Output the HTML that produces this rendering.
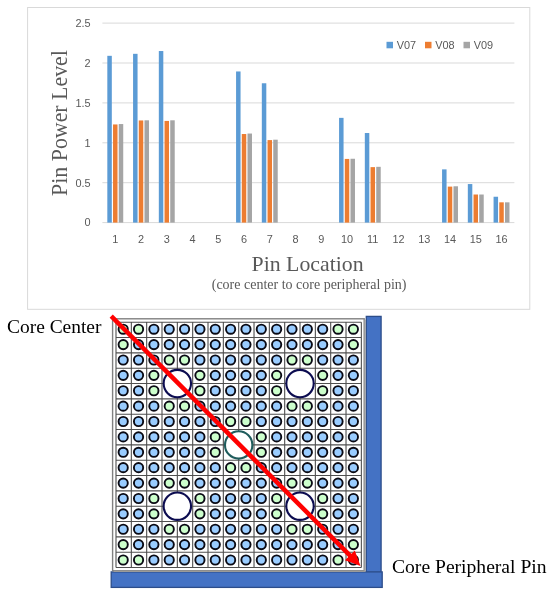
<!DOCTYPE html>
<html><head><meta charset="utf-8"><title>Pin Power Level</title>
<style>
html,body{margin:0;padding:0;background:#fff}
body{width:550px;height:592px;overflow:hidden}
svg{display:block}
.ax{font-family:"Liberation Sans",sans-serif;font-size:10.9px;fill:#595959}
.ti{font-family:"Liberation Serif",serif;fill:#595959}
.bk{font-family:"Liberation Serif",serif;fill:#000}
</style></head><body>
<svg width="550" height="592" viewBox="0 0 550 592">
<rect width="550" height="592" fill="#fff"/>
<rect x="27.6" y="7.5" width="502.19999999999993" height="301.8" fill="#fff" stroke="#d9d9d9" stroke-width="1"/>
<line x1="102.4" y1="222.6" x2="514.4" y2="222.6" stroke="#d9d9d9" stroke-width="1"/>
<text class="ax" x="90.6" y="226.4" text-anchor="end">0</text>
<line x1="102.4" y1="182.7" x2="514.4" y2="182.7" stroke="#d9d9d9" stroke-width="1"/>
<text class="ax" x="90.6" y="186.5" text-anchor="end">0.5</text>
<line x1="102.4" y1="142.8" x2="514.4" y2="142.8" stroke="#d9d9d9" stroke-width="1"/>
<text class="ax" x="90.6" y="146.60000000000002" text-anchor="end">1</text>
<line x1="102.4" y1="102.9" x2="514.4" y2="102.9" stroke="#d9d9d9" stroke-width="1"/>
<text class="ax" x="90.6" y="106.7" text-anchor="end">1.5</text>
<line x1="102.4" y1="63.0" x2="514.4" y2="63.0" stroke="#d9d9d9" stroke-width="1"/>
<text class="ax" x="90.6" y="66.8" text-anchor="end">2</text>
<line x1="102.4" y1="23.099999999999994" x2="514.4" y2="23.099999999999994" stroke="#d9d9d9" stroke-width="1"/>
<text class="ax" x="90.6" y="26.899999999999995" text-anchor="end">2.5</text>
<text class="ax" x="115.28" y="242.6" text-anchor="middle">1</text>
<rect x="107.32" y="55.82" width="4.49" height="166.78" fill="#5b9bd5"/>
<rect x="113.03" y="124.45" width="4.49" height="98.15" fill="#ed7d31"/>
<rect x="118.74" y="124.05" width="4.49" height="98.55" fill="#a5a5a5"/>
<text class="ax" x="141.03" y="242.6" text-anchor="middle">2</text>
<rect x="133.07" y="53.82" width="4.49" height="168.78" fill="#5b9bd5"/>
<rect x="138.78" y="120.46" width="4.49" height="102.14" fill="#ed7d31"/>
<rect x="144.49" y="120.30" width="4.49" height="102.30" fill="#a5a5a5"/>
<text class="ax" x="166.78" y="242.6" text-anchor="middle">3</text>
<rect x="158.82" y="51.03" width="4.49" height="171.57" fill="#5b9bd5"/>
<rect x="164.53" y="120.93" width="4.49" height="101.67" fill="#ed7d31"/>
<rect x="170.24" y="120.30" width="4.49" height="102.30" fill="#a5a5a5"/>
<text class="ax" x="192.53" y="242.6" text-anchor="middle">4</text>
<text class="ax" x="218.28" y="242.6" text-anchor="middle">5</text>
<text class="ax" x="244.03" y="242.6" text-anchor="middle">6</text>
<rect x="236.07" y="71.46" width="4.49" height="151.14" fill="#5b9bd5"/>
<rect x="241.78" y="134.02" width="4.49" height="88.58" fill="#ed7d31"/>
<rect x="247.49" y="133.54" width="4.49" height="89.06" fill="#a5a5a5"/>
<text class="ax" x="269.77" y="242.6" text-anchor="middle">7</text>
<rect x="261.82" y="83.27" width="4.49" height="139.33" fill="#5b9bd5"/>
<rect x="267.53" y="140.09" width="4.49" height="82.51" fill="#ed7d31"/>
<rect x="273.24" y="139.69" width="4.49" height="82.91" fill="#a5a5a5"/>
<text class="ax" x="295.52" y="242.6" text-anchor="middle">8</text>
<text class="ax" x="321.27" y="242.6" text-anchor="middle">9</text>
<text class="ax" x="347.02" y="242.6" text-anchor="middle">10</text>
<rect x="339.07" y="117.86" width="4.49" height="104.74" fill="#5b9bd5"/>
<rect x="344.78" y="158.92" width="4.49" height="63.68" fill="#ed7d31"/>
<rect x="350.49" y="158.76" width="4.49" height="63.84" fill="#a5a5a5"/>
<text class="ax" x="372.77" y="242.6" text-anchor="middle">11</text>
<rect x="364.82" y="133.02" width="4.49" height="89.58" fill="#5b9bd5"/>
<rect x="370.53" y="167.14" width="4.49" height="55.46" fill="#ed7d31"/>
<rect x="376.24" y="166.82" width="4.49" height="55.78" fill="#a5a5a5"/>
<text class="ax" x="398.52" y="242.6" text-anchor="middle">12</text>
<text class="ax" x="424.27" y="242.6" text-anchor="middle">13</text>
<text class="ax" x="450.02" y="242.6" text-anchor="middle">14</text>
<rect x="442.07" y="169.37" width="4.49" height="53.23" fill="#5b9bd5"/>
<rect x="447.78" y="186.61" width="4.49" height="35.99" fill="#ed7d31"/>
<rect x="453.49" y="186.29" width="4.49" height="36.31" fill="#a5a5a5"/>
<text class="ax" x="475.77" y="242.6" text-anchor="middle">15</text>
<rect x="467.82" y="184.06" width="4.49" height="38.54" fill="#5b9bd5"/>
<rect x="473.53" y="194.51" width="4.49" height="28.09" fill="#ed7d31"/>
<rect x="479.24" y="194.51" width="4.49" height="28.09" fill="#a5a5a5"/>
<text class="ax" x="501.52" y="242.6" text-anchor="middle">16</text>
<rect x="493.57" y="196.74" width="4.49" height="25.86" fill="#5b9bd5"/>
<rect x="499.28" y="202.33" width="4.49" height="20.27" fill="#ed7d31"/>
<rect x="504.99" y="202.33" width="4.49" height="20.27" fill="#a5a5a5"/>
<rect x="386.5" y="41.8" width="6.5" height="6.5" fill="#5b9bd5"/><text class="ax" x="396.8" y="48.9">V07</text>
<rect x="425.0" y="41.8" width="6.5" height="6.5" fill="#ed7d31"/><text class="ax" x="435.3" y="48.9">V08</text>
<rect x="463.5" y="41.8" width="6.5" height="6.5" fill="#a5a5a5"/><text class="ax" x="473.8" y="48.9">V09</text>
<text class="ti" font-size="23" transform="translate(66.5 195.9) rotate(-90)" textLength="145.8" lengthAdjust="spacingAndGlyphs">Pin Power Level</text>
<text class="ti" font-size="21.8" x="307.6" y="270.8" text-anchor="middle">Pin Location</text>
<text class="ti" font-size="14" x="309.1" y="289.0" text-anchor="middle">(core center to core peripheral pin)</text>
<text class="bk" font-size="19.45" x="7" y="332.9">Core Center</text>
<text class="bk" font-size="19.6" x="392" y="573.4">Core Peripheral Pin</text>
<rect x="366.3" y="316.4" width="14.8" height="256" fill="#4472c4" stroke="#2c4d8a" stroke-width="1.3"/>
<rect x="111.2" y="571.9" width="271" height="15.5" fill="#4472c4" stroke="#2c4d8a" stroke-width="1.3"/>
<rect x="112.6" y="318.8" width="251.6" height="251.90000000000003" fill="#fff" stroke="#808080" stroke-width="1.4"/>
<path d="M364.8 319.8 V571.3000000000001 H113.6" fill="none" stroke="#9a9a9a" stroke-width="1.6"/>
<path d="M116.00 322.2V567.56M116.0 322.20H361.36M131.34 322.2V567.56M116.0 337.53H361.36M146.67 322.2V567.56M116.0 352.87H361.36M162.00 322.2V567.56M116.0 368.20H361.36M177.34 322.2V567.56M116.0 383.54H361.36M192.68 322.2V567.56M116.0 398.88H361.36M208.01 322.2V567.56M116.0 414.21H361.36M223.34 322.2V567.56M116.0 429.54H361.36M238.68 322.2V567.56M116.0 444.88H361.36M254.02 322.2V567.56M116.0 460.22H361.36M269.35 322.2V567.56M116.0 475.55H361.36M284.69 322.2V567.56M116.0 490.88H361.36M300.02 322.2V567.56M116.0 506.22H361.36M315.36 322.2V567.56M116.0 521.56H361.36M330.69 322.2V567.56M116.0 536.89H361.36M346.02 322.2V567.56M116.0 552.23H361.36M361.36 322.2V567.56M116.0 567.56H361.36" fill="none" stroke="#505050" stroke-width="1.1"/>
<g fill="#99ccff" stroke="#0a0a14" stroke-width="1.9"><circle cx="153.89" cy="329.20" r="4.62"/><circle cx="169.24" cy="329.20" r="4.62"/><circle cx="184.58" cy="329.20" r="4.62"/><circle cx="199.93" cy="329.20" r="4.62"/><circle cx="215.27" cy="329.20" r="4.62"/><circle cx="230.62" cy="329.20" r="4.62"/><circle cx="245.96" cy="329.20" r="4.62"/><circle cx="261.31" cy="329.20" r="4.62"/><circle cx="276.65" cy="329.20" r="4.62"/><circle cx="292.00" cy="329.20" r="4.62"/><circle cx="307.34" cy="329.20" r="4.62"/><circle cx="322.69" cy="329.20" r="4.62"/><circle cx="138.55" cy="344.59" r="4.62"/><circle cx="153.89" cy="344.59" r="4.62"/><circle cx="169.24" cy="344.59" r="4.62"/><circle cx="184.58" cy="344.59" r="4.62"/><circle cx="199.93" cy="344.59" r="4.62"/><circle cx="215.27" cy="344.59" r="4.62"/><circle cx="230.62" cy="344.59" r="4.62"/><circle cx="245.96" cy="344.59" r="4.62"/><circle cx="261.31" cy="344.59" r="4.62"/><circle cx="276.65" cy="344.59" r="4.62"/><circle cx="292.00" cy="344.59" r="4.62"/><circle cx="307.34" cy="344.59" r="4.62"/><circle cx="322.69" cy="344.59" r="4.62"/><circle cx="338.03" cy="344.59" r="4.62"/><circle cx="123.20" cy="359.97" r="4.62"/><circle cx="138.55" cy="359.97" r="4.62"/><circle cx="153.89" cy="359.97" r="4.62"/><circle cx="199.93" cy="359.97" r="4.62"/><circle cx="215.27" cy="359.97" r="4.62"/><circle cx="230.62" cy="359.97" r="4.62"/><circle cx="245.96" cy="359.97" r="4.62"/><circle cx="261.31" cy="359.97" r="4.62"/><circle cx="276.65" cy="359.97" r="4.62"/><circle cx="322.69" cy="359.97" r="4.62"/><circle cx="338.03" cy="359.97" r="4.62"/><circle cx="353.38" cy="359.97" r="4.62"/><circle cx="123.20" cy="375.36" r="4.62"/><circle cx="138.55" cy="375.36" r="4.62"/><circle cx="215.27" cy="375.36" r="4.62"/><circle cx="230.62" cy="375.36" r="4.62"/><circle cx="245.96" cy="375.36" r="4.62"/><circle cx="261.31" cy="375.36" r="4.62"/><circle cx="338.03" cy="375.36" r="4.62"/><circle cx="353.38" cy="375.36" r="4.62"/><circle cx="123.20" cy="390.75" r="4.62"/><circle cx="138.55" cy="390.75" r="4.62"/><circle cx="215.27" cy="390.75" r="4.62"/><circle cx="230.62" cy="390.75" r="4.62"/><circle cx="245.96" cy="390.75" r="4.62"/><circle cx="261.31" cy="390.75" r="4.62"/><circle cx="338.03" cy="390.75" r="4.62"/><circle cx="353.38" cy="390.75" r="4.62"/><circle cx="123.20" cy="406.13" r="4.62"/><circle cx="138.55" cy="406.13" r="4.62"/><circle cx="153.89" cy="406.13" r="4.62"/><circle cx="199.93" cy="406.13" r="4.62"/><circle cx="215.27" cy="406.13" r="4.62"/><circle cx="230.62" cy="406.13" r="4.62"/><circle cx="245.96" cy="406.13" r="4.62"/><circle cx="261.31" cy="406.13" r="4.62"/><circle cx="276.65" cy="406.13" r="4.62"/><circle cx="322.69" cy="406.13" r="4.62"/><circle cx="338.03" cy="406.13" r="4.62"/><circle cx="353.38" cy="406.13" r="4.62"/><circle cx="123.20" cy="421.52" r="4.62"/><circle cx="138.55" cy="421.52" r="4.62"/><circle cx="153.89" cy="421.52" r="4.62"/><circle cx="169.24" cy="421.52" r="4.62"/><circle cx="184.58" cy="421.52" r="4.62"/><circle cx="199.93" cy="421.52" r="4.62"/><circle cx="215.27" cy="421.52" r="4.62"/><circle cx="261.31" cy="421.52" r="4.62"/><circle cx="276.65" cy="421.52" r="4.62"/><circle cx="292.00" cy="421.52" r="4.62"/><circle cx="307.34" cy="421.52" r="4.62"/><circle cx="322.69" cy="421.52" r="4.62"/><circle cx="338.03" cy="421.52" r="4.62"/><circle cx="353.38" cy="421.52" r="4.62"/><circle cx="123.20" cy="436.91" r="4.62"/><circle cx="138.55" cy="436.91" r="4.62"/><circle cx="153.89" cy="436.91" r="4.62"/><circle cx="169.24" cy="436.91" r="4.62"/><circle cx="184.58" cy="436.91" r="4.62"/><circle cx="199.93" cy="436.91" r="4.62"/><circle cx="276.65" cy="436.91" r="4.62"/><circle cx="292.00" cy="436.91" r="4.62"/><circle cx="307.34" cy="436.91" r="4.62"/><circle cx="322.69" cy="436.91" r="4.62"/><circle cx="338.03" cy="436.91" r="4.62"/><circle cx="353.38" cy="436.91" r="4.62"/><circle cx="123.20" cy="452.30" r="4.62"/><circle cx="138.55" cy="452.30" r="4.62"/><circle cx="153.89" cy="452.30" r="4.62"/><circle cx="169.24" cy="452.30" r="4.62"/><circle cx="184.58" cy="452.30" r="4.62"/><circle cx="199.93" cy="452.30" r="4.62"/><circle cx="276.65" cy="452.30" r="4.62"/><circle cx="292.00" cy="452.30" r="4.62"/><circle cx="307.34" cy="452.30" r="4.62"/><circle cx="322.69" cy="452.30" r="4.62"/><circle cx="338.03" cy="452.30" r="4.62"/><circle cx="353.38" cy="452.30" r="4.62"/><circle cx="123.20" cy="467.68" r="4.62"/><circle cx="138.55" cy="467.68" r="4.62"/><circle cx="153.89" cy="467.68" r="4.62"/><circle cx="169.24" cy="467.68" r="4.62"/><circle cx="184.58" cy="467.68" r="4.62"/><circle cx="199.93" cy="467.68" r="4.62"/><circle cx="215.27" cy="467.68" r="4.62"/><circle cx="261.31" cy="467.68" r="4.62"/><circle cx="276.65" cy="467.68" r="4.62"/><circle cx="292.00" cy="467.68" r="4.62"/><circle cx="307.34" cy="467.68" r="4.62"/><circle cx="322.69" cy="467.68" r="4.62"/><circle cx="338.03" cy="467.68" r="4.62"/><circle cx="353.38" cy="467.68" r="4.62"/><circle cx="123.20" cy="483.07" r="4.62"/><circle cx="138.55" cy="483.07" r="4.62"/><circle cx="153.89" cy="483.07" r="4.62"/><circle cx="199.93" cy="483.07" r="4.62"/><circle cx="215.27" cy="483.07" r="4.62"/><circle cx="230.62" cy="483.07" r="4.62"/><circle cx="245.96" cy="483.07" r="4.62"/><circle cx="261.31" cy="483.07" r="4.62"/><circle cx="276.65" cy="483.07" r="4.62"/><circle cx="322.69" cy="483.07" r="4.62"/><circle cx="338.03" cy="483.07" r="4.62"/><circle cx="353.38" cy="483.07" r="4.62"/><circle cx="123.20" cy="498.46" r="4.62"/><circle cx="138.55" cy="498.46" r="4.62"/><circle cx="215.27" cy="498.46" r="4.62"/><circle cx="230.62" cy="498.46" r="4.62"/><circle cx="245.96" cy="498.46" r="4.62"/><circle cx="261.31" cy="498.46" r="4.62"/><circle cx="338.03" cy="498.46" r="4.62"/><circle cx="353.38" cy="498.46" r="4.62"/><circle cx="123.20" cy="513.84" r="4.62"/><circle cx="138.55" cy="513.84" r="4.62"/><circle cx="215.27" cy="513.84" r="4.62"/><circle cx="230.62" cy="513.84" r="4.62"/><circle cx="245.96" cy="513.84" r="4.62"/><circle cx="261.31" cy="513.84" r="4.62"/><circle cx="338.03" cy="513.84" r="4.62"/><circle cx="353.38" cy="513.84" r="4.62"/><circle cx="123.20" cy="529.23" r="4.62"/><circle cx="138.55" cy="529.23" r="4.62"/><circle cx="153.89" cy="529.23" r="4.62"/><circle cx="199.93" cy="529.23" r="4.62"/><circle cx="215.27" cy="529.23" r="4.62"/><circle cx="230.62" cy="529.23" r="4.62"/><circle cx="245.96" cy="529.23" r="4.62"/><circle cx="261.31" cy="529.23" r="4.62"/><circle cx="276.65" cy="529.23" r="4.62"/><circle cx="322.69" cy="529.23" r="4.62"/><circle cx="338.03" cy="529.23" r="4.62"/><circle cx="353.38" cy="529.23" r="4.62"/><circle cx="138.55" cy="544.62" r="4.62"/><circle cx="153.89" cy="544.62" r="4.62"/><circle cx="169.24" cy="544.62" r="4.62"/><circle cx="184.58" cy="544.62" r="4.62"/><circle cx="199.93" cy="544.62" r="4.62"/><circle cx="215.27" cy="544.62" r="4.62"/><circle cx="230.62" cy="544.62" r="4.62"/><circle cx="245.96" cy="544.62" r="4.62"/><circle cx="261.31" cy="544.62" r="4.62"/><circle cx="276.65" cy="544.62" r="4.62"/><circle cx="292.00" cy="544.62" r="4.62"/><circle cx="307.34" cy="544.62" r="4.62"/><circle cx="322.69" cy="544.62" r="4.62"/><circle cx="338.03" cy="544.62" r="4.62"/><circle cx="153.89" cy="560.00" r="4.62"/><circle cx="169.24" cy="560.00" r="4.62"/><circle cx="184.58" cy="560.00" r="4.62"/><circle cx="199.93" cy="560.00" r="4.62"/><circle cx="215.27" cy="560.00" r="4.62"/><circle cx="230.62" cy="560.00" r="4.62"/><circle cx="245.96" cy="560.00" r="4.62"/><circle cx="261.31" cy="560.00" r="4.62"/><circle cx="276.65" cy="560.00" r="4.62"/><circle cx="292.00" cy="560.00" r="4.62"/><circle cx="307.34" cy="560.00" r="4.62"/><circle cx="322.69" cy="560.00" r="4.62"/><circle cx="353.38" cy="560.00" r="4.62"/></g>
<g fill="#ccffcc" stroke="#0a0a14" stroke-width="1.9"><circle cx="123.20" cy="329.20" r="4.62"/><circle cx="138.55" cy="329.20" r="4.62"/><circle cx="338.03" cy="329.20" r="4.62"/><circle cx="353.38" cy="329.20" r="4.62"/><circle cx="123.20" cy="344.59" r="4.62"/><circle cx="353.38" cy="344.59" r="4.62"/><circle cx="169.24" cy="359.97" r="4.62"/><circle cx="184.58" cy="359.97" r="4.62"/><circle cx="292.00" cy="359.97" r="4.62"/><circle cx="307.34" cy="359.97" r="4.62"/><circle cx="153.89" cy="375.36" r="4.62"/><circle cx="199.93" cy="375.36" r="4.62"/><circle cx="276.65" cy="375.36" r="4.62"/><circle cx="322.69" cy="375.36" r="4.62"/><circle cx="153.89" cy="390.75" r="4.62"/><circle cx="199.93" cy="390.75" r="4.62"/><circle cx="276.65" cy="390.75" r="4.62"/><circle cx="322.69" cy="390.75" r="4.62"/><circle cx="169.24" cy="406.13" r="4.62"/><circle cx="184.58" cy="406.13" r="4.62"/><circle cx="292.00" cy="406.13" r="4.62"/><circle cx="307.34" cy="406.13" r="4.62"/><circle cx="230.62" cy="421.52" r="4.62"/><circle cx="245.96" cy="421.52" r="4.62"/><circle cx="215.27" cy="436.91" r="4.62"/><circle cx="261.31" cy="436.91" r="4.62"/><circle cx="215.27" cy="452.30" r="4.62"/><circle cx="261.31" cy="452.30" r="4.62"/><circle cx="230.62" cy="467.68" r="4.62"/><circle cx="245.96" cy="467.68" r="4.62"/><circle cx="169.24" cy="483.07" r="4.62"/><circle cx="184.58" cy="483.07" r="4.62"/><circle cx="292.00" cy="483.07" r="4.62"/><circle cx="307.34" cy="483.07" r="4.62"/><circle cx="153.89" cy="498.46" r="4.62"/><circle cx="199.93" cy="498.46" r="4.62"/><circle cx="276.65" cy="498.46" r="4.62"/><circle cx="322.69" cy="498.46" r="4.62"/><circle cx="153.89" cy="513.84" r="4.62"/><circle cx="199.93" cy="513.84" r="4.62"/><circle cx="276.65" cy="513.84" r="4.62"/><circle cx="322.69" cy="513.84" r="4.62"/><circle cx="169.24" cy="529.23" r="4.62"/><circle cx="184.58" cy="529.23" r="4.62"/><circle cx="292.00" cy="529.23" r="4.62"/><circle cx="307.34" cy="529.23" r="4.62"/><circle cx="123.20" cy="544.62" r="4.62"/><circle cx="353.38" cy="544.62" r="4.62"/><circle cx="123.20" cy="560.00" r="4.62"/><circle cx="138.55" cy="560.00" r="4.62"/><circle cx="338.03" cy="560.00" r="4.62"/></g>
<circle cx="177.34" cy="383.54" r="13.7" fill="#fff" stroke="#0c0c50" stroke-width="2.1"/>
<circle cx="300.02" cy="383.54" r="13.7" fill="#fff" stroke="#0c0c50" stroke-width="2.1"/>
<circle cx="177.34" cy="506.22" r="13.7" fill="#fff" stroke="#0c0c50" stroke-width="2.1"/>
<circle cx="300.02" cy="506.22" r="13.7" fill="#fff" stroke="#0c0c50" stroke-width="2.1"/>
<circle cx="238.68" cy="444.88" r="13.7" fill="#fff" stroke="#1f5c5c" stroke-width="2.1"/>
<line x1="111.2" y1="316.2" x2="350.61" y2="556.09" stroke="#ff0000" stroke-width="4.5"/>
<polygon points="360.5,566.0 345.02,560.26 354.79,550.51" fill="#ff0000"/>
</svg>
</body></html>
